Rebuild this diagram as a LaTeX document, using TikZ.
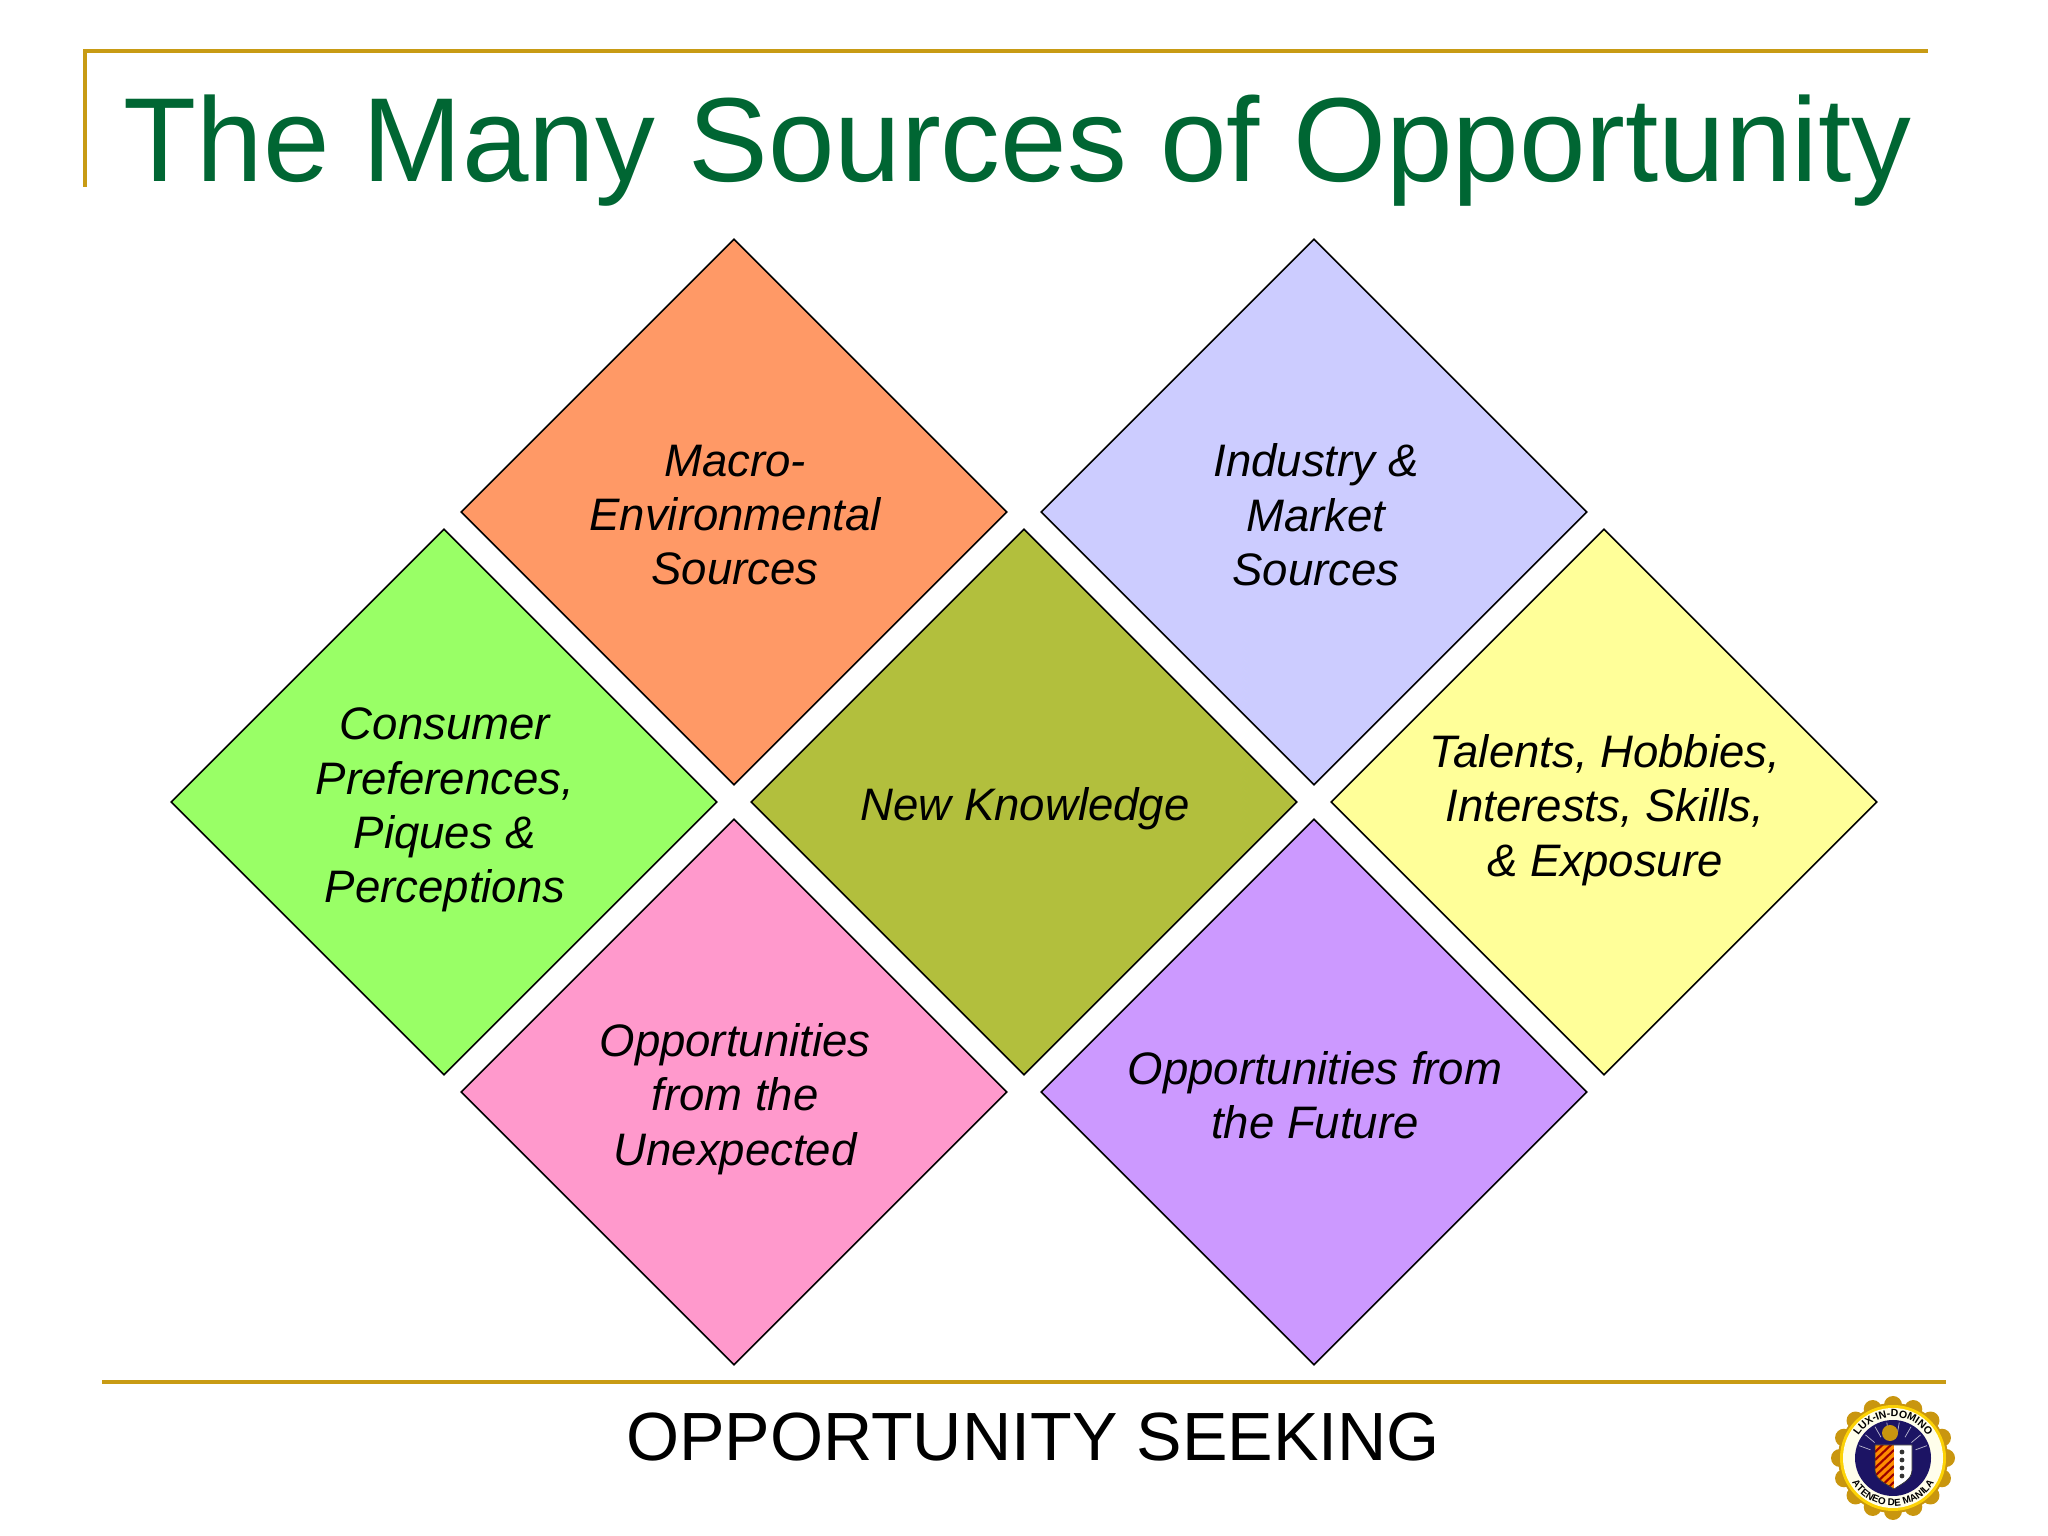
\documentclass[tikz,border=0pt]{standalone}
\usepackage{fontspec}
\setmainfont{Liberation Sans}
\usepackage{xcolor}
\usetikzlibrary{shapes.geometric,decorations.text}
\definecolor{rulegold}{HTML}{C89B14}
\definecolor{titlegreen}{HTML}{006633}
\definecolor{sealblue}{HTML}{1C1464}
\definecolor{sealgold}{HTML}{C9960F}
\definecolor{macrofill}{HTML}{FF9966}
\definecolor{industryfill}{HTML}{CCCCFF}
\definecolor{consumerfill}{HTML}{99FF66}
\definecolor{knowledgefill}{HTML}{B2BF3D}
\definecolor{talentsfill}{HTML}{FFFF99}
\definecolor{unexpectedfill}{HTML}{FF99CC}
\definecolor{futurefill}{HTML}{CC99FF}
\tikzset{>=stealth,
	source/.style={diamond,aspect=1,draw=black,line width=0.45pt,minimum width=5.46cm,minimum height=5.46cm,inner sep=0pt},
	sourcetext/.style={inner sep=0pt,align=center,font=\fontsize{12.95}{15.45}\selectfont\itshape},
	goldrule/.style={draw=rulegold,line width=1.15pt}
}

\begin{document}
\begin{tikzpicture}[x=0.01cm,y=0.01cm]
	\useasboundingbox (0,0) rectangle (2048,1536);
	% Frame round the title and rule above the footer
	\draw[goldrule] (85,1349) -- (85,1485) -- (1928,1485);
	\draw[goldrule] (102,154) -- (1946,154);
	\node[anchor=base west,inner sep=0pt,text=titlegreen,font=\fontsize{34}{40}\selectfont] (title) at (123,1354) {The Many Sources of Opportunity};
	\node[anchor=base,inner sep=0pt,font=\fontsize{19.4}{22}\selectfont] (footer) at (1033,75) {OPPORTUNITY SEEKING};
	
	% Seven sources
	\node[source,fill=macrofill] (macro) at (734,1024) {};
	\node[source,fill=industryfill] (industry) at (1314,1024) {};
	\node[source,fill=consumerfill] (consumer) at (444,734) {};
	\node[source,fill=knowledgefill] (knowledge) at (1024,734) {};
	\node[source,fill=talentsfill] (talents) at (1604,734) {};
	\node[source,fill=unexpectedfill] (unexpected) at (734,444) {};
	\node[source,fill=futurefill] (future) at (1314,444) {};
	
	% Their texts sit a little below the middle
	\node[sourcetext] (macrotext) at (735,1021) {Macro-\\Environmental\\Sources};
	\node[sourcetext] (industrytext) at (1316,1021) {Industry \&\\Market\\Sources};
	\node[sourcetext] (consumertext) at (445,726) {Consumer\\Preferences,\\Piques \&\\Perceptions};
	\node[sourcetext] (knowledgetext) at (1025,727) {New Knowledge};
	\node[sourcetext] (talentstext) at (1605,726) {Talents, Hobbies,\\Interests, Skills,\\\& Exposure};
	\node[sourcetext] (unexpectedtext) at (735,437) {Opportunities\\from the\\Unexpected};
	\node[sourcetext] (futuretext) at (1315,441) {Opportunities from\\the Future};
	
	% School seal
	\begin{scope}[shift={(1893,78)}]
		\foreach \a in {0,22.5,...,337.5}
			\fill[sealgold] (\a:53) circle (9);
		\fill[sealgold] (0,0) circle (55);
		\fill[yellow!70!orange] (0,0) circle (53);
		\fill[white!92!yellow] (0,0) circle (50);
		\fill[sealblue] (0,0) circle (38);
		\foreach \a in {20,40,...,160}
			\draw[white!70!sealblue,line width=0.2pt] (\a:24) -- (\a:36);
		\path[postaction={decorate,decoration={text along path,text align=center,text={|\fontsize{3}{4}\selectfont\bfseries|LUX-IN-DOMINO}}}] (162:41) arc (162:18:41);
		\path[postaction={decorate,decoration={text along path,text align=center,text={|\fontsize{2.8}{4}\selectfont\bfseries|ATENEO DE MANILA}}}] (195:48) arc (195:345:48);
		% Sun above the shield
		\fill[sealgold] (-3,25) circle (8);
		% Shield, striped half and chain half
		\fill[white] (-18,13) -- (19,13) -- (19,-12) .. controls (19,-22) and (8,-26) .. (1,-31) .. controls (-6,-26) and (-18,-22) .. (-18,-12) -- cycle;
		\begin{scope}
			\clip (-18,13) -- (1,13) -- (1,-31) .. controls (-6,-26) and (-18,-22) .. (-18,-12) -- cycle;
			\fill[orange!90!yellow] (-18,-31) rectangle (1,13);
			\foreach \s in {-50,-42,...,14}
				\draw[red!60!black,line width=0.6pt] (-18,\s) -- (1,\s+18);
		\end{scope}
		\foreach \s in {-18,-10,...,10}
			\fill[black!80] (9,\s) circle (2.4);
		\draw[black!80,line width=0.2pt] (-18,13) -- (19,13) -- (19,-12) .. controls (19,-22) and (8,-26) .. (1,-31) .. controls (-6,-26) and (-18,-22) .. (-18,-12) -- cycle;
	\end{scope}
\end{tikzpicture}
\end{document}
